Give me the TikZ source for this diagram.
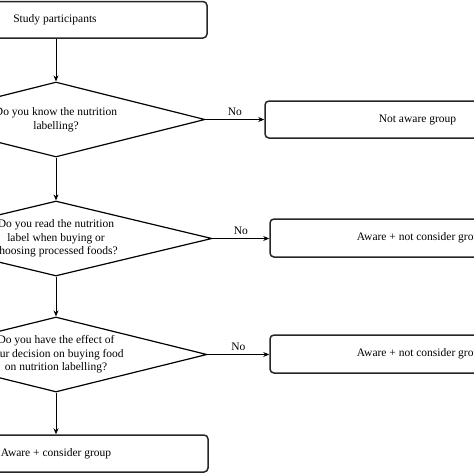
\documentclass[tikz,border=0pt]{standalone}
\usepackage{fontspec}
\setmainfont{Liberation Serif}
\usetikzlibrary{shapes.geometric,arrows.meta}
\begin{document}
\begin{tikzpicture}[x=1pt,y=-1pt,
  every node/.style={font=\fontsize{11.5}{13.5}\selectfont},
  boxnode/.style={draw=black!85,line width=1.5pt,rounded corners=4pt,inner sep=0pt},
  decision/.style={draw,shape=diamond,aspect=4,line width=1.2pt,inner sep=0pt,align=center,minimum height=75pt},
  arr/.style={line width=0.8pt,-{Stealth[length=6pt,width=5pt]}},
  nolabel/.style={midway,above=2pt,inner sep=1pt}]
\useasboundingbox (0,0) rectangle (474,474);
\node[boxnode,minimum width=304pt,minimum height=36.5pt] (start) at (55,19.75) {Study participants};
\node[decision,minimum width=298pt] (d1) at (56,119.5) {Do you know the nutrition\\labelling?};
\node[decision,minimum width=312pt] (d2) at (56,238.5) {Do you read the nutrition\\label when buying or\\choosing processed foods?};
\node[decision,minimum width=302pt] (d3) at (56,354.5) {Do you have the effect of\\your decision on buying food\\on nutrition labelling?};
\node[boxnode,minimum width=304pt,minimum height=37pt] (cons) at (56,453.5) {Aware + consider group};
\node[boxnode,minimum width=305pt,minimum height=37pt] (na) at (417.5,119.5) {Not aware group};
\node[boxnode,minimum width=302pt,minimum height=38pt] (anc1) at (421,238) {Aware + not consider group};
\node[boxnode,minimum width=302pt,minimum height=38pt] (anc2) at (421,354) {Aware + not consider group};
\draw[arr] (start.south -| d1.north) -- (d1.north);
\draw[arr] (d1.south) -- (d2.north);
\draw[arr] (d2.south) -- (d3.north);
\draw[arr] (d3.south) -- (cons.north -| d3.south);
\draw[arr] (d1.east) -- node[nolabel] {No} (na.west |- d1.east);
\draw[arr] (d2.east) -- node[nolabel] {No} (anc1.west |- d2.east);
\draw[arr] (d3.east) -- node[nolabel] {No} (anc2.west |- d3.east);
\end{tikzpicture}
\end{document}
